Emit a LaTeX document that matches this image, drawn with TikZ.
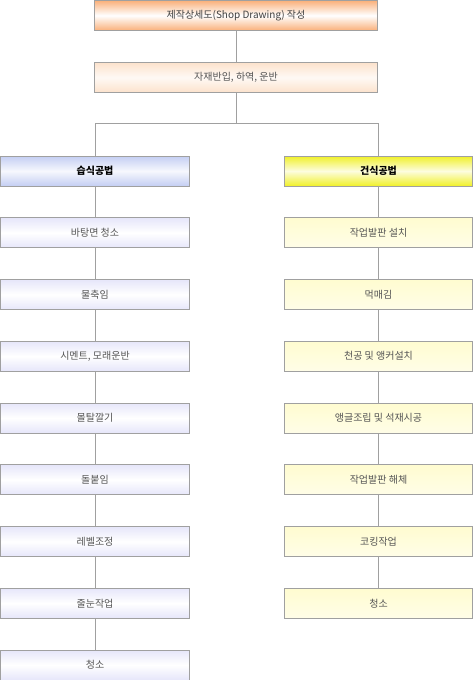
\documentclass[tikz,border=0pt]{standalone}
\usepackage{fontspec}
\setmainfont{Noto Sans CJK KR}
\usepackage{tikz}
\usetikzlibrary{calc}
\definecolor{orng}{RGB}{250,176,122}
\definecolor{peach}{RGB}{252,226,204}
\definecolor{blu}{RGB}{196,206,243}
\definecolor{ylw}{RGB}{240,240,40}
\definecolor{lav}{RGB}{230,230,250}
\definecolor{cream}{RGB}{255,252,208}
\definecolor{edge}{RGB}{160,160,160}
\definecolor{txt}{RGB}{85,85,85}
\tikzset{
  box/.style={draw=edge,line width=1pt,minimum height=30pt,inner sep=0pt,font=\fontsize{10}{12}\selectfont,text=txt},
  wet/.style={box,minimum width=189pt,top color=lav,bottom color=lav,middle color=white},
  dry/.style={box,minimum width=188pt,top color=cream,bottom color=cream!50!white},
  link/.style={draw=edge,line width=1pt}
}
\begin{document}
\begin{tikzpicture}[x=1pt,y=1pt]
  \useasboundingbox (0,0) rectangle (474,-680);

  % top of the flow
  \node [box,minimum width=283pt,top color=orng,bottom color=orng,middle color=white,text=black!75] (shop) at (236,-15.5) {제작상세도(Shop Drawing) 작성};
  \node [box,minimum width=283pt,top color=peach,bottom color=peach,middle color=peach!20!white] (load) at (236,-77.5) {자재반입, 하역, 운반};
  \coordinate (split) at (236,-123);

  \node [box,minimum width=189pt,top color=blu,bottom color=blu,middle color=blu!15!white,text=black,font=\fontsize{10}{12}\selectfont\bfseries] (w0) at (95,-171) {습식공법};
  \node [box,minimum width=188pt,top color=ylw,bottom color=ylw,middle color=ylw!15!white,text=black,font=\fontsize{10}{12}\selectfont\bfseries] (d0) at (378.5,-171) {건식공법};

  \draw [link] (shop) -- (load);
  \draw [link] (load) -- (split);
  \draw [link] (split) -| (w0);
  \draw [link] (split) -| (d0);

  % wet method
  \foreach \lbl [count=\i] in {바탕면 청소,물축임,{시멘트, 모래운반},몰탈깔기,돌붙임,레벨조정,줄눈작업,청소}{
    \pgfmathtruncatemacro\j{\i-1}
    \node [wet] (w\i) at (95,-171-61.75*\i) {\lbl};
    \draw [link] (w\j) -- (w\i);
  }

  % dry method
  \foreach \lbl [count=\i] in {작업발판 설치,먹매김,천공 및 앵커설치,앵글조립 및 석재시공,작업발판 해체,코킹작업,청소}{
    \pgfmathtruncatemacro\j{\i-1}
    \node [dry] (d\i) at (378.5,-171-61.75*\i) {\lbl};
    \draw [link] (d\j) -- (d\i);
  }

\end{tikzpicture}
\end{document}
